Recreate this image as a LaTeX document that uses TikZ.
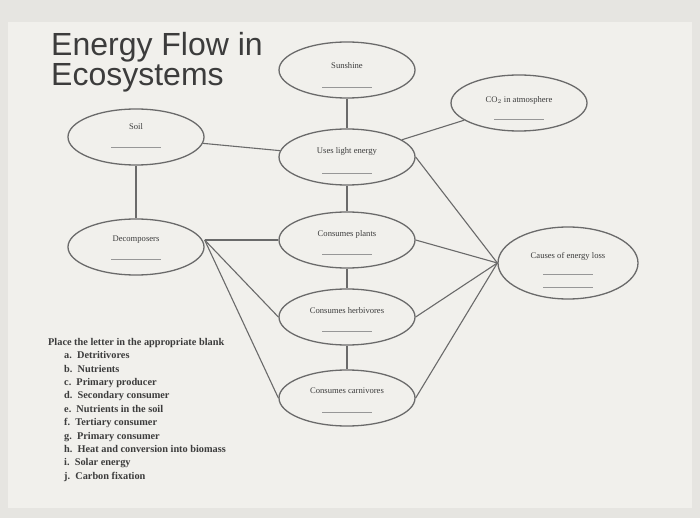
\documentclass[tikz,border=0pt]{standalone}
\usepackage{fontspec}
\setmainfont{Liberation Serif}
\newfontfamily\sansf{Liberation Sans}
\usetikzlibrary{shapes.geometric}
\definecolor{bg}{HTML}{E6E5E1}
\definecolor{slide}{HTML}{F1F0EC}
\definecolor{ink}{HTML}{6A6A6A}
\definecolor{txt}{HTML}{3C3C3C}
\begin{document}
\begin{tikzpicture}[x=1pt,y=-1pt,
  el/.style={draw=ink,line width=1.3pt,ellipse,minimum width=136pt,minimum height=56pt,inner sep=0pt},
  lab/.style={text=txt,font=\fontsize{8.6}{9}\selectfont},
  con/.style={draw=ink,line width=1.1pt},
  blank/.style={draw=ink!70,line width=0.5pt}]
\useasboundingbox (0,0) rectangle (700,518);
\fill[bg] (0,0) rectangle (700,518);
\fill[slide] (8,22) rectangle (692,508);
\node[anchor=north west,align=left,text=txt,font=\sansf\fontsize{32}{30}\selectfont,inner sep=0pt] (title) at (51,32) {Energy Flow in\\Ecosystems};
\node[el] (sun) at (347,70) {};
\node[el] (use) at (347,157) {};
\node[el] (pl) at (347,240) {};
\node[el] (herb) at (347,317) {};
\node[el] (carn) at (347,398) {};
\node[el] (co2) at (519,103) {};
\node[el] (soil) at (136,137) {};
\node[el] (dec) at (136,247) {};
\node[el,minimum width=140pt,minimum height=72pt] (loss) at (568,263) {};
\node[lab] (t1) at (347,66) {Sunshine};
\node[lab] (t2) at (347,151) {Uses light energy};
\node[lab] (t3) at (347,234) {Consumes plants};
\node[lab] (t4) at (347,311) {Consumes herbivores};
\node[lab] (t5) at (347,391) {Consumes carnivores};
\node[lab] (t6) at (519,100) {CO$_2$ in atmosphere};
\node[lab] (t7) at (136,127) {Soil};
\node[lab] (t8) at (136,240) {Decomposers};
\node[lab] (t9) at (568,256) {Causes of energy loss};
\foreach \x/\y in {347/87,347/173,347/254,347/331,347/412,519/119,136/147,136/259,568/274,568/287}
  \draw[blank] (\x-25,\y) -- (\x+25,\y);
\draw[con] (sun) -- (use);
\draw[con] (use) -- (co2);
\draw[con] (soil) -- (use);
\draw[con] (soil) -- (dec);
\draw[con] (use) -- (pl);
\draw[con] (pl) -- (herb);
\draw[con] (herb) -- (carn);
\draw[con] (dec.east |- pl.west) -- (pl.west);
\draw[con] (dec.east |- pl.west) -- (herb.west);
\draw[con] (dec.east |- pl.west) -- (carn.west);
\draw[con] (use.east) -- (loss.west);
\draw[con] (pl.east) -- (loss.west);
\draw[con] (herb.east) -- (loss.west);
\draw[con] (carn.east) -- (loss.west);
\node[anchor=north west,align=left,text=txt,font=\bfseries\fontsize{10.3}{13.4}\selectfont,inner sep=0pt] (list) at (48,338)
{Place the letter in the appropriate blank\\
\hspace*{16pt}a.\ \ Detritivores\\
\hspace*{16pt}b.\ \ Nutrients\\
\hspace*{16pt}c.\ \ Primary producer\\
\hspace*{16pt}d.\ \ Secondary consumer\\
\hspace*{16pt}e.\ \ Nutrients in the soil\\
\hspace*{16pt}f.\ \ Tertiary consumer\\
\hspace*{16pt}g.\ \ Primary consumer\\
\hspace*{16pt}h.\ \ Heat and conversion into biomass\\
\hspace*{16pt}i.\ \ Solar energy\\
\hspace*{16pt}j.\ \ Carbon fixation};
\end{tikzpicture}
\end{document}
